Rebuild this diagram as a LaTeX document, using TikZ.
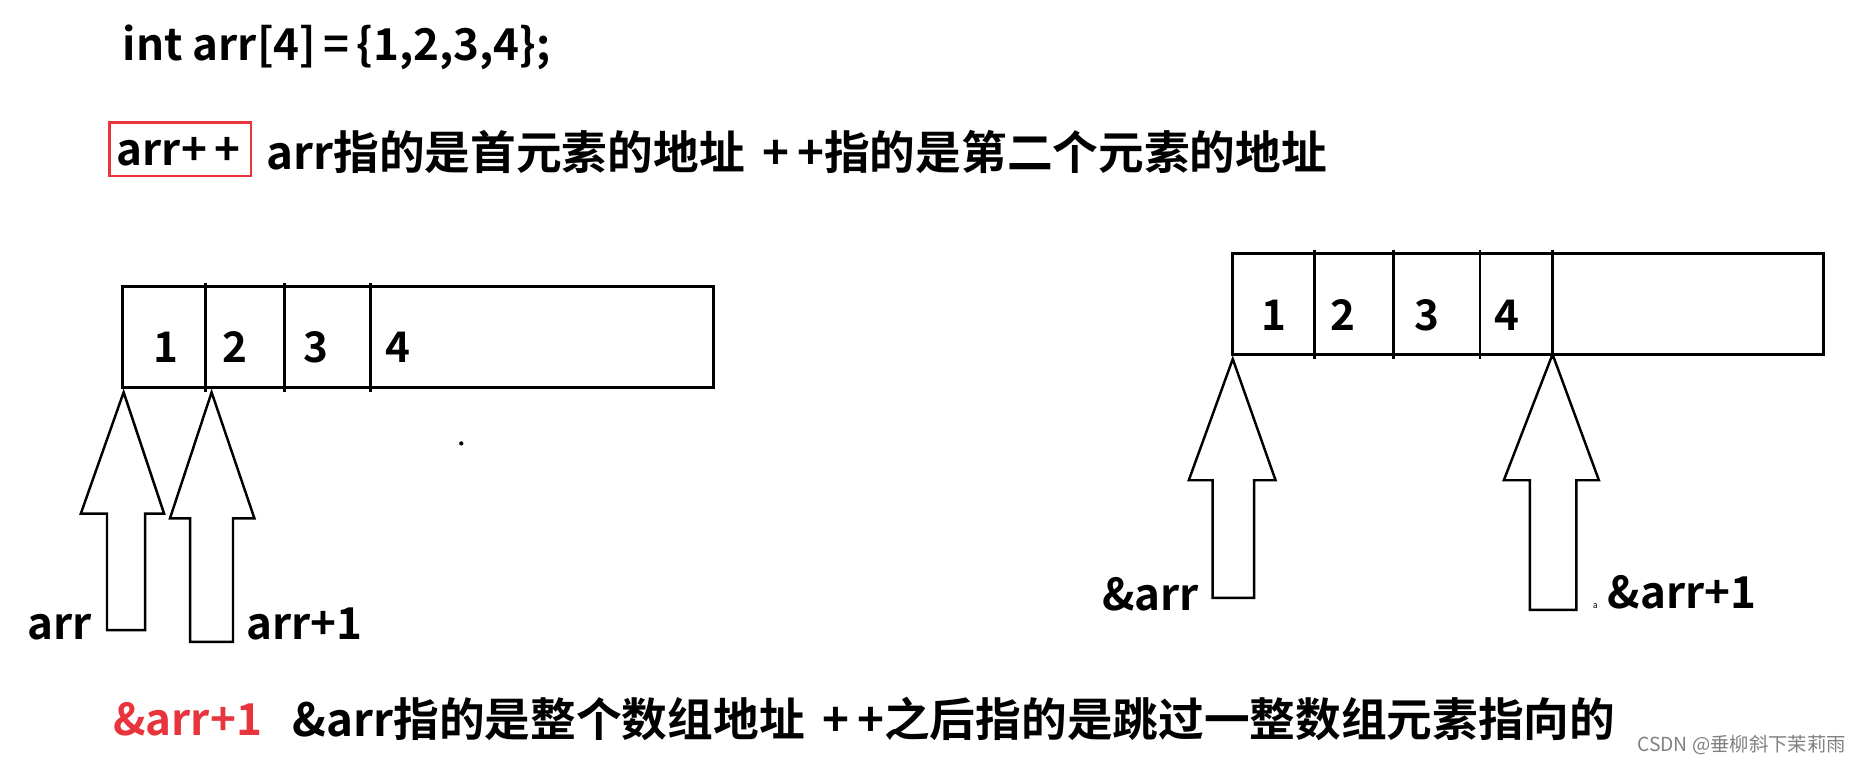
\documentclass[tikz,border=0pt]{standalone}
\usepackage{fontspec}
\setmainfont{Noto Sans CJK SC}[BoldFont={Noto Sans CJK SC Bold}]
\definecolor{myred}{RGB}{232,52,60}
\begin{document}
\begin{tikzpicture}[x=0.02378cm,y=-0.02378cm,
  txt/.style={font=\fontsize{25}{29}\selectfont\bfseries,inner sep=0pt},
  wide/.style={font=\fontsize{26}{30}\selectfont\bfseries,inner sep=0pt},
  num/.style={font=\fontsize{24}{28}\selectfont\bfseries,inner sep=0pt},
  box/.style={draw,line width=1.6pt},
  barrow/.style={draw,line width=1.4pt,line join=miter}]
\useasboundingbox (0,0) rectangle (1568,643);
\node[txt,anchor=west] (decl) at (103,40) {int arr[4]\,=\,\{1,2,3,4\};};
\node[txt,anchor=west] (l2a) at (98,128) {arr+\,+};
\draw[myred,line width=1.3pt] (92,103) rectangle (211,148);
\node[wide,anchor=west] (l2b) at (224,128) {arr指的是首元素的地址 \,+\,+指的是第二个元素的地址};
% left array
\draw[box] (103,241) rectangle (600,326);
\foreach \x in {173,239,312} \draw[line width=1.6pt] (\x,238) -- (\x,330);
\foreach \x/\n in {140/1,198/2,266/3,335/4} \node[num] at (\x,292) {\n};
% left arrows
\draw[barrow] (104,330) -- (138,432) -- (122,432) -- (122,530) -- (90,530) -- (90,432) -- (68,432) -- cycle;
\draw[barrow] (178,330) -- (214,436) -- (196,436) -- (196,540) -- (160,540) -- (160,436) -- (143,436) -- cycle;
\node[txt] (arr) at (50,528) {arr};
\node[txt] (arr1) at (256,525) {arr+1};
\fill (388,373) circle (1.8);
% right array
\draw[box] (1037,213) rectangle (1534,298);
\foreach \x in {1106,1172,1245,1306} \draw[line width=1.6pt] (\x,210) -- (\x,302);
\foreach \x/\n in {1072/1,1130/2,1200/3,1268/4} \node[num] at (\x,265) {\n};
\draw[barrow] (1037,302) -- (1073,404) -- (1055,404) -- (1055,503) -- (1020,503) -- (1020,404) -- (1000,404) -- cycle;
\draw[barrow] (1306,298) -- (1345,404) -- (1326,404) -- (1326,513) -- (1287,513) -- (1287,404) -- (1265,404) -- cycle;
\node[txt] (aarr) at (968,500) {\&arr};
\node[txt] (aarr1) at (1415,498) {\&arr+1};
\node[font=\tiny,inner sep=0pt] at (1342,510) {a};
% bottom
\node[txt,anchor=west,text=myred] (b1) at (95,605) {\&arr+1};
\node[wide,anchor=west] (b2) at (246,605) {\&arr指的是整个数组地址 \,+\,+之后指的是跳过一整数组元素指向的};
\node[font=\fontsize{11}{13}\selectfont,text=gray,anchor=west,inner sep=0pt] (wm) at (1377,627) {CSDN @垂柳斜下茉莉雨};
\end{tikzpicture}
\end{document}
